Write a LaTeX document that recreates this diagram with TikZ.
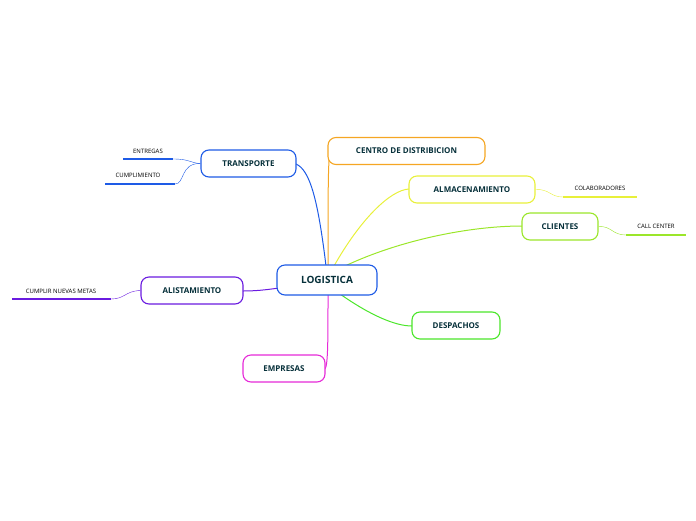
\documentclass[tikz,border=0pt]{standalone}
\usepackage{fontspec}
\setmainfont{Open Sans}
\definecolor{cblue}{HTML}{1E5BE6}
\definecolor{corange}{HTML}{F5A623}
\definecolor{cyellow}{HTML}{E8F03A}
\definecolor{clime}{HTML}{9BE62A}
\definecolor{cgreen}{HTML}{4BE62A}
\definecolor{cmag}{HTML}{E62AD8}
\definecolor{cpurple}{HTML}{6A1BE0}
\definecolor{ctext}{HTML}{06303A}
\begin{document}
\begin{tikzpicture}[x=1pt,y=-1pt,
  topic/.style={draw=#1,rounded corners=8pt,line width=1.1pt,fill=white,text=ctext,font=\bfseries\fontsize{8}{9}\selectfont,minimum height=27pt,inner xsep=0pt},
  leaf/.style={font=\fontsize{6}{7}\selectfont,text=black,inner sep=1pt},
  br/.style={draw=#1,line width=1pt},
  ln/.style={draw=#1,line width=0.4pt}]
\useasboundingbox (0,0) rectangle (696,520);
% branches
\draw[br=cblue] (326,266) .. controls (318,200) and (310,170) .. (296,164);
\draw[br=corange] (328,266) .. controls (328,200) and (328,160) .. (330,151);
\draw[br=cyellow] (334,266) .. controls (360,220) and (390,190) .. (409,189);
\draw[br=clime] (345,266) .. controls (400,240) and (470,226) .. (522,226);
\draw[br=cgreen] (340,294) .. controls (370,315) and (395,326) .. (412,326);
\draw[br=cmag] (328,294) .. controls (328,340) and (328,365) .. (325,369);
\draw[br=cpurple] (279,288) .. controls (265,290) and (255,291) .. (243,291);
\node[topic=cblue,minimum width=100pt,font=\bfseries\fontsize{10}{11}\selectfont,minimum height=30pt] (log) at (327,280) {LOGISTICA};
\node[topic=cblue,minimum width=95pt] (tra) at (248.5,163.5) {TRANSPORTE};
\node[topic=corange,minimum width=157pt] (cen) at (406.5,151) {CENTRO DE DISTRIBICION};
\node[topic=cyellow,minimum width=126pt] (alm) at (472,189.5) {ALMACENAMIENTO};
\node[topic=clime,minimum width=76pt] (cli) at (560,226.5) {CLIENTES};
\node[topic=cgreen,minimum width=88pt] (des) at (456,325.5) {DESPACHOS};
\node[topic=cmag,minimum width=82pt] (emp) at (284,368.5) {EMPRESAS};
\node[topic=cpurple,minimum width=102pt] (ali) at (192,290.5) {ALISTAMIENTO};
% leaves
\node[leaf] (ent) at (148,151) {ENTREGAS};
\coordinate (entL) at (123,159); \coordinate (entR) at (173,159);
\draw[cblue,line width=1.4pt] (entL) -- (entR);
\draw[ln=cblue] (entR) .. controls (190,159) and (190,163) .. (tra.west);
\node[leaf] (cum) at (138,175) {CUMPLIMIENTO};
\coordinate (cumL) at (105,184); \coordinate (cumR) at (175,184);
\draw[cblue,line width=1.4pt] (cumL) -- (cumR);
\draw[ln=cblue] (cumR) .. controls (185,184) and (180,163) .. (tra.west);
\node[leaf] (col) at (600,188) {COLABORADORES};
\coordinate (colL) at (563,197); \coordinate (colR) at (637,197);
\draw[cyellow,line width=1.4pt] (colL) -- (colR);
\draw[ln=cyellow] (alm.east) .. controls (550,189) and (550,197) .. (colL);
\node[leaf] (cal) at (656,226) {CALL CENTER};
\coordinate (calL) at (626,235); \coordinate (calR) at (686,235);
\draw[clime,line width=1.4pt] (calL) -- (calR);
\draw[ln=clime] (cli.east) .. controls (612,226) and (612,235) .. (calL);
\node[leaf] (cnm) at (61,291) {CUMPLIR NUEVAS METAS};
\coordinate (cnmL) at (12,299); \coordinate (cnmR) at (111,299);
\draw[cpurple,line width=1.4pt] (cnmL) -- (cnmR);
\draw[ln=cpurple] (cnmR) .. controls (125,299) and (125,291) .. (ali.west);
\end{tikzpicture}
\end{document}
